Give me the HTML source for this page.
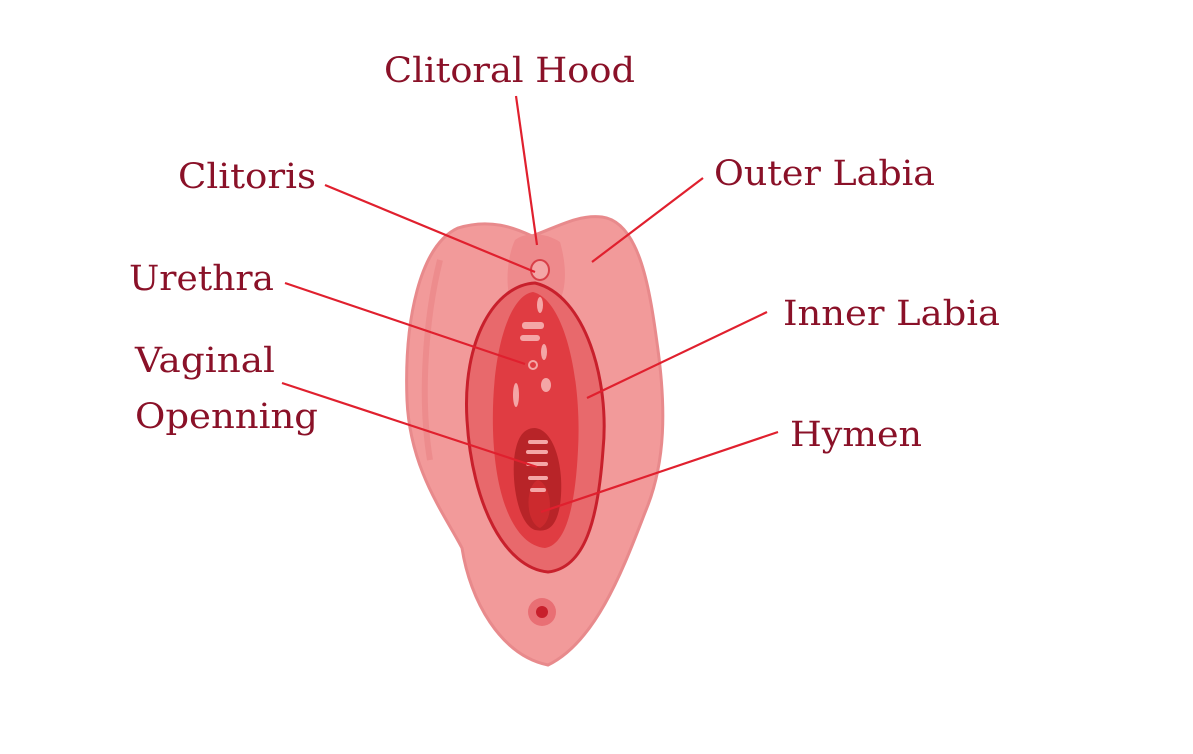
<!DOCTYPE html>
<html><head><style>
html,body{margin:0;padding:0;background:#fff;}
svg{display:block;}
text{font-family:"DejaVu Serif","Liberation Serif",serif;font-size:35px;fill:#8a1128;}
</style></head><body>
<svg width="1193" height="754" viewBox="0 0 1193 754">
<path d="M458,228 C490,218 515,228 532,236 C555,228 578,214 602,217 C640,222 650,290 658,350 C666,410 665,460 648,505 C628,555 600,640 548,665 C500,655 470,600 462,548 C445,515 410,470 407,400 C404,320 420,245 458,228 Z" fill="#f29a9a" stroke="#e88a8c" stroke-width="3"/>
<path d="M440,260 C425,320 420,400 430,460" stroke="#ea8486" stroke-width="6" fill="none" opacity="0.6"/>
<path d="M515,240 C525,232 545,232 560,242 C568,270 565,290 560,300 L510,300 C505,280 508,255 515,240 Z" fill="#ee8a8c"/>
<path d="M535,283 C585,295 610,380 603,450 C598,520 585,568 548,572 C505,568 472,505 467,420 C462,340 495,285 535,283 Z" fill="#e8696c" stroke="#c8202c" stroke-width="3"/>
<path d="M533,292 C565,300 582,380 578,450 C575,510 565,545 545,548 C515,545 495,500 493,430 C491,350 510,295 533,292 Z" fill="#e03c42"/>
<ellipse cx="540" cy="270" rx="9" ry="10" fill="#f4a6a6" stroke="#d84048" stroke-width="2"/>
<g fill="#f4a6a6">
<rect x="522" y="322" width="22" height="7" rx="3"/>
<rect x="520" y="335" width="20" height="6" rx="3"/>
<ellipse cx="540" cy="305" rx="3" ry="8"/>
<ellipse cx="544" cy="352" rx="3" ry="8"/>
<ellipse cx="546" cy="385" rx="5" ry="7"/>
<ellipse cx="516" cy="395" rx="3" ry="12"/>
</g>
<circle cx="533" cy="365" r="4" fill="#e03c42" stroke="#f4a6a6" stroke-width="2"/>
<path d="M535,428 C555,430 565,470 560,505 C556,530 545,532 535,530 C520,525 512,490 514,460 C516,440 522,428 535,428 Z" fill="#b82428"/>
<path d="M538,480 C552,485 555,520 540,528 C525,522 525,485 538,480 Z" fill="#cc2a2e"/>
<g fill="#f4a6a6">
<rect x="528" y="440" width="20" height="4" rx="2"/>
<rect x="526" y="450" width="22" height="4" rx="2"/>
<rect x="526" y="462" width="22" height="4" rx="2"/>
<rect x="528" y="476" width="20" height="4" rx="2"/>
<rect x="530" y="488" width="16" height="4" rx="2"/>
</g>
<circle cx="542" cy="612" r="14" fill="#e86a70" opacity="0.9"/>
<circle cx="542" cy="612" r="6" fill="#c8202c"/>
<g stroke="#e0202e" stroke-width="2.2">
<line x1="516" y1="96" x2="537" y2="245"/>
<line x1="325" y1="185" x2="535" y2="272"/>
<line x1="703" y1="178" x2="592" y2="262"/>
<line x1="285" y1="283" x2="525" y2="364"/>
<line x1="767" y1="312" x2="587" y2="398"/>
<line x1="282" y1="383" x2="537" y2="467"/>
<line x1="778" y1="432" x2="541" y2="512"/>
</g>
<text x="384" y="82" textLength="251" lengthAdjust="spacingAndGlyphs">Clitoral Hood</text>
<text x="178" y="188" textLength="138" lengthAdjust="spacingAndGlyphs">Clitoris</text>
<text x="714" y="185" textLength="221" lengthAdjust="spacingAndGlyphs">Outer Labia</text>
<text x="129" y="290" textLength="145" lengthAdjust="spacingAndGlyphs">Urethra</text>
<text x="783" y="325" textLength="217" lengthAdjust="spacingAndGlyphs">Inner Labia</text>
<text x="135" y="372" textLength="140" lengthAdjust="spacingAndGlyphs">Vaginal</text>
<text x="135" y="428" textLength="183" lengthAdjust="spacingAndGlyphs">Openning</text>
<text x="790" y="446" textLength="132" lengthAdjust="spacingAndGlyphs">Hymen</text>
</svg>
</body></html>
